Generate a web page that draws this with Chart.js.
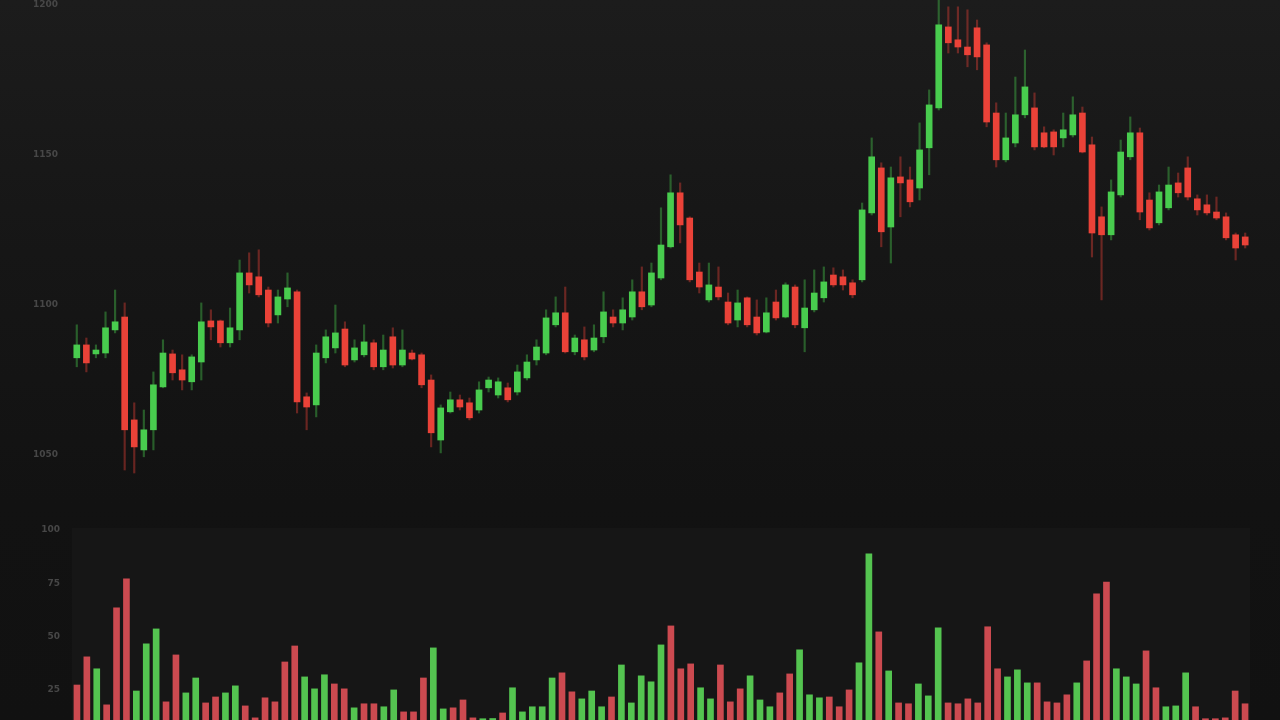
<!DOCTYPE html>
<html>
<head>
<meta charset="utf-8">
<script src="https://cdn.jsdelivr.net/npm/chart.js@4/dist/chart.umd.min.js"></script>
<style>
  html, body { margin: 0; padding: 0; }
  body {
    width: 1280px; height: 720px; overflow: hidden; position: relative;
    background: linear-gradient(180deg, #1c1c1c 0%, #161616 35%, #121212 70%, #111111 100%);
  }
  #priceBox { position: absolute; left: 0; top: 0; width: 1280px; height: 528px; }
  #volPanel { position: absolute; left: 72px; top: 528px; width: 1178px; height: 192px; background: #161616; }
  #volBox { position: absolute; left: 0; top: 512px; width: 1280px; height: 208px; }
</style>
</head>
<body>
<div id="volPanel"></div>
<div id="priceBox"><canvas id="priceChart"></canvas></div>
<div id="volBox"><canvas id="volChart"></canvas></div>
<script>
// candle data
const opens = [
  1082.4, 1086.7, 1083.7, 1084.0, 1091.7, 1096.0, 1061.7, 1051.7, 1058.4, 1072.7,
  1083.7, 1078.4, 1074.4, 1081.0, 1094.7, 1094.7, 1087.4, 1091.7, 1110.7, 1109.4,
  1105.0, 1096.7, 1102.0, 1104.4, 1069.4, 1066.7, 1082.4, 1085.7, 1092.0, 1081.7,
  1083.4, 1087.4, 1079.4, 1089.4, 1080.0, 1084.0, 1083.4, 1075.0, 1055.0, 1064.4,
  1068.4, 1067.4, 1065.0, 1072.4, 1070.0, 1072.4, 1071.0, 1075.7, 1081.7, 1084.0,
  1093.4, 1097.4, 1084.4, 1088.4, 1085.0, 1089.4, 1096.0, 1094.0, 1096.0, 1104.4,
  1100.0, 1109.0, 1119.4, 1137.4, 1129.0, 1111.0, 1101.7, 1106.0, 1101.0, 1095.0,
  1102.4, 1096.0, 1091.0, 1101.0, 1096.0, 1106.0, 1092.4, 1098.4, 1102.4, 1110.0,
  1109.4, 1107.4, 1108.4, 1130.7, 1145.7, 1126.0, 1142.7, 1141.7, 1139.0, 1152.4,
  1165.7, 1192.7, 1188.4, 1186.0, 1192.4, 1186.7, 1164.0, 1148.4, 1154.0, 1163.4,
  1165.7, 1157.4, 1157.7, 1155.7, 1156.7, 1164.0, 1153.4, 1129.4, 1123.4, 1136.7,
  1149.4, 1157.4, 1135.0, 1127.4, 1132.4, 1140.7, 1145.7, 1135.4, 1133.4, 1131.0,
  1129.4, 1123.4, 1122.7
];
const closes = [
  1086.7, 1080.7, 1085.0, 1092.4, 1094.4, 1058.4, 1052.7, 1058.4, 1073.4, 1084.0,
  1077.4, 1075.0, 1082.7, 1094.4, 1092.7, 1087.4, 1092.4, 1110.7, 1106.7, 1103.4,
  1094.0, 1102.7, 1105.7, 1067.7, 1066.0, 1084.0, 1089.4, 1090.7, 1080.0, 1085.7,
  1087.7, 1079.4, 1085.0, 1080.0, 1085.0, 1082.0, 1073.4, 1057.4, 1065.7, 1068.4,
  1066.0, 1062.4, 1071.7, 1075.0, 1074.4, 1068.4, 1077.7, 1081.0, 1086.0, 1095.7,
  1097.4, 1084.4, 1089.0, 1082.7, 1089.0, 1097.7, 1094.0, 1098.4, 1104.4, 1099.4,
  1110.7, 1120.0, 1137.4, 1126.7, 1108.4, 1106.0, 1106.7, 1102.7, 1094.0, 1100.7,
  1093.4, 1090.7, 1097.4, 1095.7, 1106.7, 1093.4, 1099.0, 1104.0, 1107.7, 1106.7,
  1106.7, 1103.4, 1131.7, 1149.4, 1124.4, 1142.4, 1140.7, 1134.4, 1151.7, 1166.7,
  1193.4, 1187.4, 1186.0, 1183.4, 1182.7, 1161.0, 1148.4, 1155.7, 1163.4, 1172.7,
  1152.7, 1152.7, 1152.7, 1158.4, 1163.4, 1151.0, 1124.0, 1123.4, 1137.7, 1151.0,
  1157.4, 1131.0, 1125.7, 1137.7, 1140.0, 1137.4, 1136.0, 1131.7, 1130.7, 1129.0,
  1122.4, 1119.0, 1120.0
];
const highs = [
  1093.4, 1089.0, 1086.7, 1097.7, 1105.0, 1100.7, 1067.4, 1065.0, 1077.7, 1088.4,
  1085.0, 1083.4, 1083.4, 1100.7, 1098.4, 1095.0, 1099.0, 1115.0, 1117.4, 1118.4,
  1106.0, 1105.0, 1110.7, 1105.0, 1070.7, 1086.7, 1091.7, 1100.0, 1094.4, 1088.4,
  1093.4, 1088.4, 1090.0, 1092.4, 1091.7, 1085.0, 1084.0, 1076.7, 1066.7, 1071.0,
  1070.0, 1069.0, 1074.4, 1076.0, 1075.7, 1074.0, 1080.0, 1083.4, 1088.4, 1098.4,
  1102.7, 1106.0, 1090.0, 1092.7, 1093.4, 1104.4, 1098.4, 1102.4, 1108.4, 1112.7,
  1114.0, 1132.4, 1143.4, 1140.7, 1129.4, 1114.0, 1114.0, 1112.7, 1104.0, 1105.0,
  1102.7, 1101.7, 1102.4, 1105.0, 1107.4, 1106.7, 1108.4, 1111.7, 1112.7, 1112.4,
  1111.7, 1108.4, 1134.0, 1155.7, 1147.4, 1146.0, 1149.4, 1146.0, 1160.7, 1171.7,
  1201.7, 1199.4, 1199.4, 1198.4, 1195.0, 1187.4, 1167.4, 1164.0, 1176.0, 1185.0,
  1170.7, 1159.4, 1158.4, 1164.0, 1169.4, 1166.0, 1156.0, 1132.7, 1141.7, 1155.0,
  1162.7, 1159.0, 1137.4, 1140.0, 1146.0, 1144.0, 1149.4, 1136.7, 1136.7, 1136.0,
  1130.7, 1124.0, 1124.0
];
const lows = [
  1079.4, 1077.7, 1082.4, 1082.4, 1090.7, 1045.0, 1044.0, 1049.4, 1051.7, 1072.4,
  1075.0, 1071.7, 1071.7, 1075.0, 1088.4, 1086.0, 1086.0, 1088.4, 1104.0, 1102.7,
  1092.7, 1094.0, 1099.4, 1064.0, 1058.4, 1062.7, 1080.7, 1084.0, 1079.4, 1081.0,
  1082.7, 1078.4, 1078.4, 1079.0, 1079.4, 1081.7, 1072.4, 1052.7, 1050.7, 1064.0,
  1065.0, 1061.7, 1064.0, 1071.0, 1069.0, 1067.7, 1070.0, 1075.0, 1080.0, 1083.4,
  1092.7, 1084.0, 1083.4, 1081.7, 1084.4, 1087.4, 1092.7, 1091.7, 1095.0, 1098.4,
  1099.4, 1108.4, 1119.0, 1120.7, 1107.7, 1104.0, 1101.0, 1101.7, 1093.4, 1092.7,
  1092.7, 1090.0, 1090.7, 1095.0, 1095.7, 1092.4, 1084.4, 1097.7, 1101.0, 1106.0,
  1105.0, 1102.4, 1107.7, 1130.0, 1119.4, 1114.0, 1129.4, 1132.7, 1135.0, 1143.4,
  1165.0, 1184.0, 1184.0, 1179.4, 1178.4, 1159.4, 1146.0, 1147.7, 1152.7, 1162.4,
  1151.7, 1152.4, 1150.0, 1152.7, 1156.0, 1150.7, 1116.0, 1101.7, 1121.7, 1136.0,
  1148.4, 1128.4, 1125.0, 1126.7, 1131.7, 1136.0, 1135.0, 1130.0, 1130.0, 1128.4,
  1121.7, 1115.0, 1119.0
];
const priceTicks = [1050, 1100, 1150, 1200];

// volume data (1 = up bar, 0 = down bar)
const volumes = [
  27.3, 40.5, 34.9, 18.0, 63.5, 77.1, 24.5, 46.6, 53.6, 19.4,
  41.4, 23.6, 30.6, 18.9, 21.7, 23.6, 26.9, 17.5, 11.9, 21.3,
  19.4, 38.1, 45.6, 31.1, 25.5, 32.1, 27.8, 25.5, 16.6, 18.5,
  18.5, 17.1, 25.0, 14.7, 14.7, 30.6, 44.7, 16.1, 16.6, 20.3,
  11.9, 11.5, 11.6, 14.2, 26.0, 14.7, 17.1, 17.1, 30.6, 33.0,
  24.1, 20.8, 24.5, 17.1, 21.7, 36.7, 18.9, 31.6, 28.8, 46.1,
  55.0, 34.9, 37.2, 26.0, 20.8, 36.7, 19.4, 25.5, 31.6, 20.3,
  17.1, 23.6, 32.5, 43.8, 22.7, 21.3, 21.7, 17.1, 25.0, 37.7,
  88.8, 52.2, 33.9, 18.9, 18.5, 27.8, 22.2, 54.1, 18.9, 18.5,
  20.8, 18.9, 54.6, 34.9, 31.1, 34.4, 28.3, 28.3, 19.4, 18.9,
  22.7, 28.3, 38.6, 70.0, 75.6, 34.9, 31.1, 27.8, 43.3, 26.0,
  17.1, 17.5, 33.0, 17.1, 11.5, 11.5, 11.9, 24.5, 18.5
];
const volUp = [
  0, 0, 1, 0, 0, 0, 1, 1, 1, 0,
  0, 1, 1, 0, 0, 1, 1, 0, 0, 0,
  0, 0, 0, 1, 1, 1, 0, 0, 1, 0,
  0, 1, 1, 0, 0, 0, 1, 1, 0, 0,
  0, 1, 1, 0, 1, 1, 1, 1, 1, 0,
  0, 1, 1, 1, 0, 1, 1, 1, 1, 1,
  0, 0, 0, 1, 1, 0, 0, 0, 1, 1,
  1, 0, 0, 1, 1, 1, 0, 0, 0, 1,
  1, 0, 1, 0, 0, 1, 1, 1, 0, 0,
  0, 0, 0, 0, 1, 1, 1, 0, 0, 0,
  0, 1, 0, 0, 0, 1, 1, 1, 0, 0,
  1, 1, 1, 0, 0, 0, 0, 0, 0
];
const volTicks = [25, 50, 75, 100];

const UP = 'rgb(72, 204, 78)';
const DOWN = 'rgb(234, 66, 56)';
const UP_WICK = 'rgba(72, 204, 78, 0.4)';
const DOWN_WICK = 'rgba(234, 66, 56, 0.4)';
const VOL_UP = 'rgb(84, 196, 80)';
const VOL_DOWN = 'rgb(204, 74, 80)';

const candleLabels = opens.map((_, i) => i + 1);
const volLabels = volumes.map((_, i) => i + 1);
const isUp = opens.map((o, i) => closes[i] >= o);

const tickFont = { family: 'DejaVu Sans', size: 9, weight: 'bold' };

// keep the plot area flush with the canvas: no extra room for edge labels
function fixAxis(s) {
  s.width = 72;
  s.paddingTop = 0;
  s.paddingBottom = 0;
}

new Chart(document.getElementById('priceChart'), {
  type: 'bar',
  data: {
    labels: candleLabels,
    datasets: [
      {
        label: 'body',
        data: opens.map((o, i) => [o, closes[i]]),
        backgroundColor: isUp.map(u => u ? UP : DOWN),
        barThickness: 6,
        grouped: false,
        borderSkipped: false
      },
      {
        label: 'wick',
        data: lows.map((l, i) => [l, highs[i]]),
        backgroundColor: isUp.map(u => u ? UP_WICK : DOWN_WICK),
        barThickness: 1.5,
        grouped: false,
        borderSkipped: false
      }
    ]
  },
  options: {
    responsive: true,
    maintainAspectRatio: false,
    animation: false,
    layout: { padding: { left: 0, right: 30, top: 0, bottom: 0 }, autoPadding: false },
    plugins: { legend: { display: false }, tooltip: { enabled: false } },
    scales: {
      x: { display: false, offset: true },
      y: {
        min: 1025.67,
        max: 1201.67,
        afterBuildTicks: s => { s.ticks = priceTicks.map(v => ({ value: v })); },
        afterFit: fixAxis,
        grid: { display: false, drawTicks: false },
        border: { display: false },
        ticks: { color: '#474747', font: tickFont, padding: 14, callback: v => String(v) }
      }
    }
  }
});

new Chart(document.getElementById('volChart'), {
  type: 'bar',
  data: {
    labels: volLabels,
    datasets: [{
      label: 'volume',
      data: volumes,
      backgroundColor: volUp.map(u => u ? VOL_UP : VOL_DOWN),
      barThickness: 6
    }]
  },
  options: {
    responsive: true,
    maintainAspectRatio: false,
    animation: false,
    layout: { padding: { left: 0, right: 30, top: 16, bottom: 0 }, autoPadding: false },
    plugins: { legend: { display: false }, tooltip: { enabled: false } },
    scales: {
      x: { display: false, offset: true },
      y: {
        min: 10.9,
        max: 100.9,
        afterBuildTicks: s => { s.ticks = volTicks.map(v => ({ value: v })); },
        afterFit: fixAxis,
        grid: { display: false, drawTicks: false },
        border: { display: false },
        ticks: { color: '#474747', font: tickFont, padding: 12, callback: v => String(v) }
      }
    }
  }
});
</script>
</body>
</html>
